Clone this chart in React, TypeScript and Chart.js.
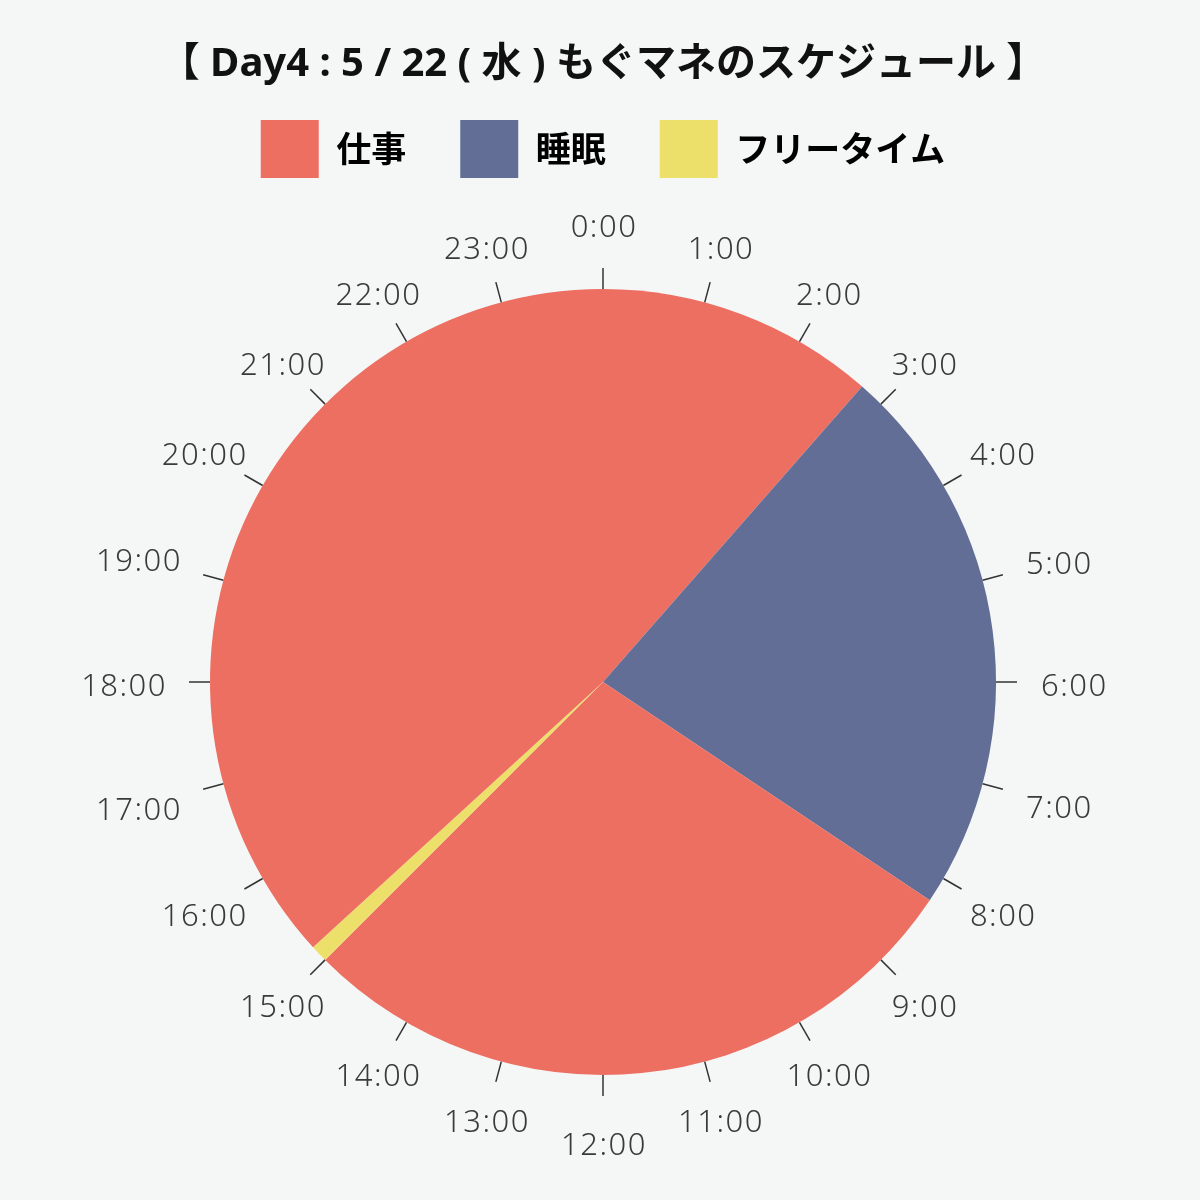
import { useEffect, useRef } from "react";
import { Chart, registerables } from "chart.js";

Chart.register(...registerables);

const titleText = "【 Day4 : 5 / 22 ( 水 ) もぐマネのスケジュール 】";

// categories shown in the legend
const categories = ["仕事", "睡眠", "フリータイム"];
const categoryColors = ["#ec6f62", "#626e96", "#ede06a"];

// slices clockwise from 0:00 (hours), and which category each belongs to
const segmentCategory = [0, 1, 0, 2, 0];
const segmentHours = [2.75, 5.5, 6.75, 0.17, 8.83];

const hourLabels = [
  "0:00", "1:00", "2:00", "3:00", "4:00", "5:00", "6:00", "7:00",
  "8:00", "9:00", "10:00", "11:00", "12:00", "13:00", "14:00", "15:00",
  "16:00", "17:00", "18:00", "19:00", "20:00", "21:00", "22:00", "23:00",
];

const CJK = "'Noto Sans CJK JP', 'Noto Sans', sans-serif";
const LATIN = "'Noto Sans', 'Noto Sans CJK JP', sans-serif";

// draws the 24h clock ticks and labels around the pie
const clockFace = {
  id: "clockFace",
  afterDatasetsDraw(chart: any) {
    const arc = chart.getDatasetMeta(0).data[0];
    if (!arc) return;
    const { x, y, outerRadius } = arc.getProps(["x", "y", "outerRadius"], true);
    const ctx = chart.ctx;
    ctx.save();
    ctx.strokeStyle = "#333";
    ctx.lineWidth = 1.5;
    ctx.fillStyle = "#3a3a3a";
    ctx.font = `300 31px ${LATIN}`;
    (ctx as any).letterSpacing = "1.5px";
    ctx.textAlign = "center";
    ctx.textBaseline = "middle";
    hourLabels.forEach((label, i) => {
      const a = (i / hourLabels.length) * Math.PI * 2;
      const sx = Math.sin(a);
      const sy = -Math.cos(a);
      ctx.beginPath();
      ctx.moveTo(x + sx * outerRadius, y + sy * outerRadius);
      ctx.lineTo(x + sx * (outerRadius + 21), y + sy * (outerRadius + 21));
      ctx.stroke();

      const halfW = ctx.measureText(label).width / 2;
      const halfH = 12;
      const pushX = Math.abs(sx) > 1e-6 ? halfW / Math.abs(sx) : Infinity;
      const pushY = Math.abs(sy) > 1e-6 ? halfH / Math.abs(sy) : Infinity;
      const extra = 10 * Math.pow(Math.abs(sy), 40);
      const r = outerRadius + 44 + Math.min(pushX, pushY) + extra;
      ctx.fillText(label, x + sx * r + 1, y + sy * r + 5);
    });
    ctx.restore();
  },
};

export default function App() {
  const canvasRef = useRef<HTMLCanvasElement>(null);
  const chartRef = useRef<Chart | null>(null);

  useEffect(() => {
    if (!canvasRef.current) return;
    if (chartRef.current) chartRef.current.destroy();

    const labels = segmentCategory.map((c) => categories[c]);
    const colors = segmentCategory.map((c) => categoryColors[c]);

    chartRef.current = new Chart(canvasRef.current, {
      type: "pie",
      data: {
        labels,
        datasets: [
          {
            data: segmentHours,
            backgroundColor: colors,
            borderWidth: 0,
            hoverOffset: 0,
          },
        ],
      },
      options: {
        animation: false,
        responsive: true,
        maintainAspectRatio: false,
        radius: 393,
        layout: { padding: { left: 6, right: 0, top: 0, bottom: 24 } },
        plugins: {
          title: {
            display: true,
            text: titleText,
            color: "#111",
            font: { family: LATIN, size: 40, weight: "bold", lineHeight: 1.2 },
            padding: { top: 41, bottom: -23 },
          },
          legend: {
            display: true,
            position: "top",
            labels: {
              boxWidth: 58,
              boxHeight: 58,
              padding: 54,
              color: "#000",
              font: { family: CJK, size: 35, weight: "bold" },
              filter: (item: any) =>
                segmentCategory.indexOf(segmentCategory[item.index]) === item.index,
            },
          },
          tooltip: { enabled: false },
        },
      } as any,
      plugins: [clockFace],
    });

    return () => {
      if (chartRef.current) {
        chartRef.current.destroy();
        chartRef.current = null;
      }
    };
  }, []);

  return (
    <div
      style={{
        position: "absolute",
        left: 0,
        top: 0,
        width: 1200,
        height: 1200,
        background: "#f5f6f6",
      }}
    >
      <canvas ref={canvasRef} />
    </div>
  );
}
